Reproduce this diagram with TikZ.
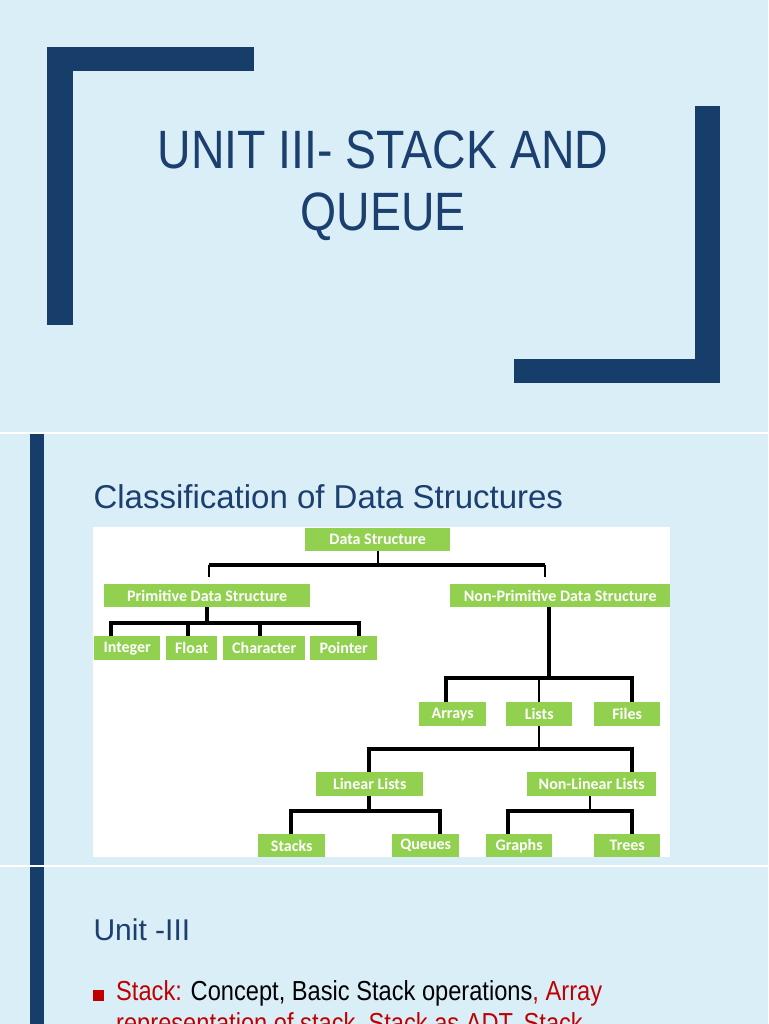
\documentclass[tikz,border=0pt]{standalone}
\usepackage{fontspec}
\setmainfont{Liberation Sans}
\newfontfamily\narrowfont[FakeStretch=0.86]{Liberation Sans}
\newfontfamily\boxfont{Carlito}
\definecolor{bg}{HTML}{DAEEF8}
\definecolor{navy}{HTML}{173D6B}
\definecolor{titleblue}{HTML}{1B3F6E}
\definecolor{lgreen}{HTML}{92D050}
\definecolor{redc}{HTML}{C00000}
\begin{document}
\begin{tikzpicture}[x=1pt,y=-1pt,
  gbox/.style={fill=lgreen,text=white,font=\boxfont\bfseries\fontsize{16}{18}\selectfont,inner sep=0pt,anchor=north west},
  link/.style={line width=3.5pt,black},
  thin/.style={line width=2pt,black}]
\useasboundingbox (0,0) rectangle (768,1024);
\clip (0,0) rectangle (768,1024);
\fill[bg] (0,0) rectangle (768,1024);
% slide separators
\fill[white] (0,432) rectangle (768,434);
\fill[white] (0,865) rectangle (768,867);
% slide 1
\fill[navy] (47,47) rectangle (254,71);
\fill[navy] (47,47) rectangle (73,325);
\fill[navy] (695,106) rectangle (720,383);
\fill[navy] (514,359) rectangle (720,383);
\node[text=titleblue,font=\narrowfont\fontsize{54}{62}\selectfont,align=center] (title) at (383,186) {UNIT III- STACK AND\\QUEUE};
% slide 2
\fill[navy] (30,434) rectangle (44,865);
\node[anchor=west,text=titleblue,font=\fontsize{33}{36}\selectfont] (ctitle) at (90,497) {Classification of Data Structures};
\fill[white] (93,527) rectangle (670,857);
\path
 (305,528) node[gbox,minimum width=145pt,minimum height=23pt] (ds) {Data Structure}
 (104,584) node[gbox,minimum width=206pt,minimum height=23pt] (pds) {Primitive Data Structure}
 (450,584) node[gbox,minimum width=220pt,minimum height=23pt] (npds) {Non-Primitive Data Structure}
 (94,636) node[gbox,minimum width=66pt,minimum height=24pt] (int) {Integer}
 (166,636) node[gbox,minimum width=51pt,minimum height=24pt] (flt) {Float}
 (223,636) node[gbox,minimum width=82pt,minimum height=24pt] (chr) {Character}
 (310,636) node[gbox,minimum width=67pt,minimum height=24pt] (ptr) {Pointer}
 (419,702) node[gbox,minimum width=67pt,minimum height=24pt] (arr) {Arrays}
 (506,702) node[gbox,minimum width=66pt,minimum height=24pt] (lst) {Lists}
 (594,702) node[gbox,minimum width=66pt,minimum height=24pt] (fil) {Files}
 (316,772) node[gbox,minimum width=107pt,minimum height=24pt] (lin) {Linear Lists}
 (527,772) node[gbox,minimum width=129pt,minimum height=24pt] (nlin) {Non-Linear Lists}
 (258,834) node[gbox,minimum width=67pt,minimum height=23pt] (stk) {Stacks}
 (392,834) node[gbox,minimum width=67pt,minimum height=23pt] (que) {Queues}
 (486,834) node[gbox,minimum width=66pt,minimum height=23pt] (grp) {Graphs}
 (594,834) node[gbox,minimum width=66pt,minimum height=23pt] (tre) {Trees};
% connectors
\draw[thin] (ds.south) -- (ds.south |- 0,565);
\draw[link] (209,565) -- (545,565);
\draw[thin] (209,565) -- (209,577) (545,565) -- (545,577);
\draw[link] (pds.south) -- (pds.south |- 0,623);
\draw[link] (int.north -| 111,0) -- (111,623) -- (359,623) -- (ptr.north -| 359,0);
\draw[link] (188,623) -- (flt.north -| 188,0);
\draw[link] (260,623) -- (chr.north -| 260,0);
\draw[link] (npds.south -| 549,0) -- (549,678);
\draw[link] (arr.north -| 446,0) -- (446,678) -- (632,678) -- (fil.north -| 632,0);
\draw[thin] (539,678) -- (lst.north -| 539,0);
\draw[thin] (lst.south -| 539,0) -- (539,749);
\draw[link] (lin.north -| 369,0) -- (369,749) -- (632,749) -- (nlin.north -| 632,0);
\draw[link] (lin.south -| 369,0) -- (369,811);
\draw[link] (stk.north -| 291,0) -- (291,811) -- (440,811) -- (que.north -| 440,0);
\draw[thin] (nlin.south -| 590,0) -- (590,811);
\draw[link] (grp.north -| 508,0) -- (508,811) -- (632,811) -- (tre.north -| 632,0);
% slide 3
\fill[navy] (30,867) rectangle (44,1024);
\node[anchor=west,text=titleblue,font=\fontsize{30}{34}\selectfont] (unit) at (90,930) {Unit -III};
\fill[redc] (93,990) rectangle (104,1001);
\node[anchor=north west,align=left,inner sep=0pt,font=\narrowfont\fontsize{27.5}{32}\selectfont,text=black] (txt) at (116,980)
 {\textcolor{redc}{Stack:} Concept, Basic Stack operations\textcolor{redc}{, Array}\\
  \textcolor{redc}{representation of stack, Stack as ADT, Stack}};
\end{tikzpicture}
\end{document}
